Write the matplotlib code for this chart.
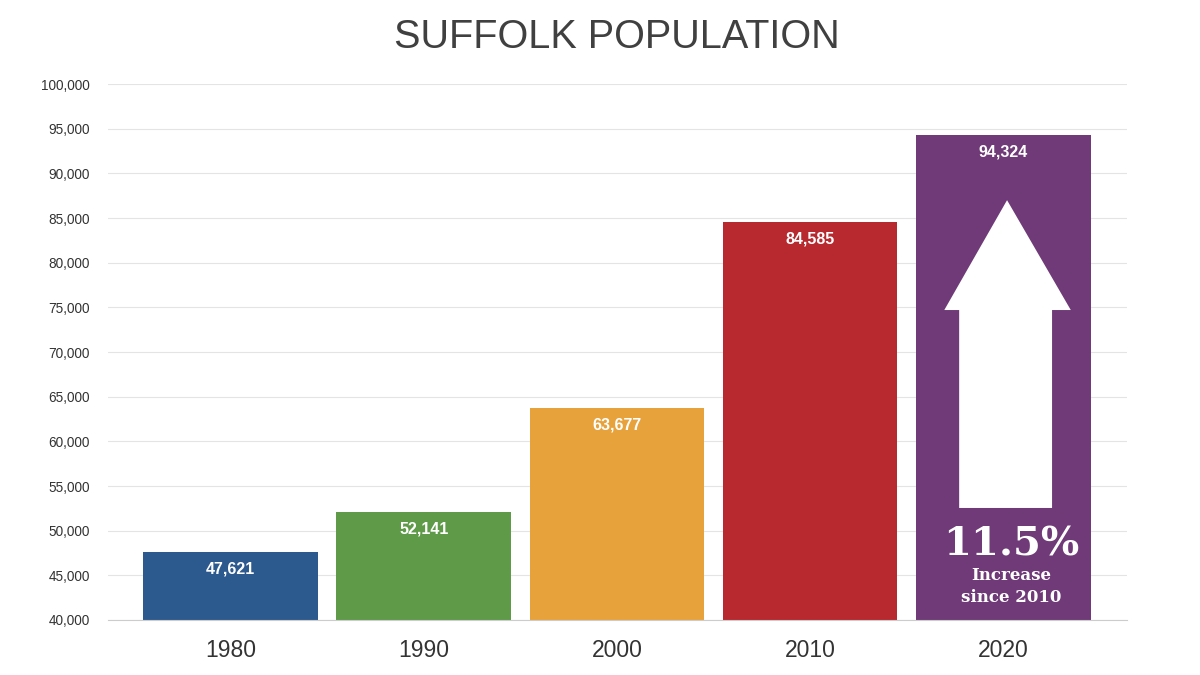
import matplotlib
matplotlib.use('Agg')
import matplotlib.pyplot as plt
from matplotlib.patches import Polygon
from matplotlib.ticker import FuncFormatter

years = ['1980', '1990', '2000', '2010', '2020']
population = [47621, 52141, 63677, 84585, 94324]
bar_colors = ['#2d5a8e', '#5e9a48', '#e8a23c', '#b8292f', '#6f3a77']
pct_label = '11.5%'
pct_caption = ['Increase', 'since 2010']

fig = plt.figure(figsize=(12, 6.75), dpi=100)
ax = fig.add_axes([0.09, 0.0815, 0.849, 0.794])

x = list(range(len(years)))
ax.bar(x, population, width=0.905, color=bar_colors, zorder=2)

for xi, v in zip(x, population):
  ax.text(xi, v - 1900, f'{v:,}', ha='center', va='center', color='white',
          fontsize=11.5, fontweight='bold', family='Liberation Sans', zorder=3)

ax.set_ylim(40000, 100000)
ax.set_xlim(-0.635, 4.64)
ax.set_yticks(range(40000, 100001, 5000))
ax.yaxis.set_major_formatter(FuncFormatter(lambda v, p: f'{int(v):,}'))
ax.set_xticks(x)
ax.set_xticklabels(years)
ax.tick_params(axis='y', length=0, pad=13, labelsize=9.8, labelcolor='#333333')
ax.tick_params(axis='x', length=0, pad=14, labelsize=16.5, labelcolor='#333333')
for lbl in ax.get_xticklabels() + ax.get_yticklabels():
  lbl.set_family('Liberation Sans')

ax.grid(axis='y', color='#e4e4e4', linewidth=0.8, zorder=0)
for s in ['top', 'right', 'left']:
  ax.spines[s].set_visible(False)
ax.spines['bottom'].set_color('#cccccc')

# white arrow inside the 2020 bar
cx = x[-1]
arrow = Polygon([
  (cx - 0.228, 52540), (cx + 0.253, 52540), (cx + 0.253, 74700),
  (cx + 0.35, 74700), (cx + 0.02, 87000), (cx - 0.305, 74700),
  (cx - 0.228, 74700)], closed=True, facecolor='white', edgecolor='none', zorder=3)
ax.add_patch(arrow)

ax.text(cx + 0.04, 48500, pct_label, ha='center', va='center', color='white',
        fontsize=29, fontweight='bold', family='DejaVu Serif', zorder=3)
ax.text(cx + 0.04, 44925, pct_caption[0], ha='center', va='center', color='white',
        fontsize=12, fontweight='bold', family='DejaVu Serif', zorder=3)
ax.text(cx + 0.04, 42463, pct_caption[1], ha='center', va='center', color='white',
        fontsize=12, fontweight='bold', family='DejaVu Serif', zorder=3)

fig.text(0.514, 0.945, 'SUFFOLK POPULATION', ha='center', va='center',
         fontsize=28.5, color='#404040', family='Liberation Sans')

fig.savefig('out.png', dpi=100, facecolor='white')
